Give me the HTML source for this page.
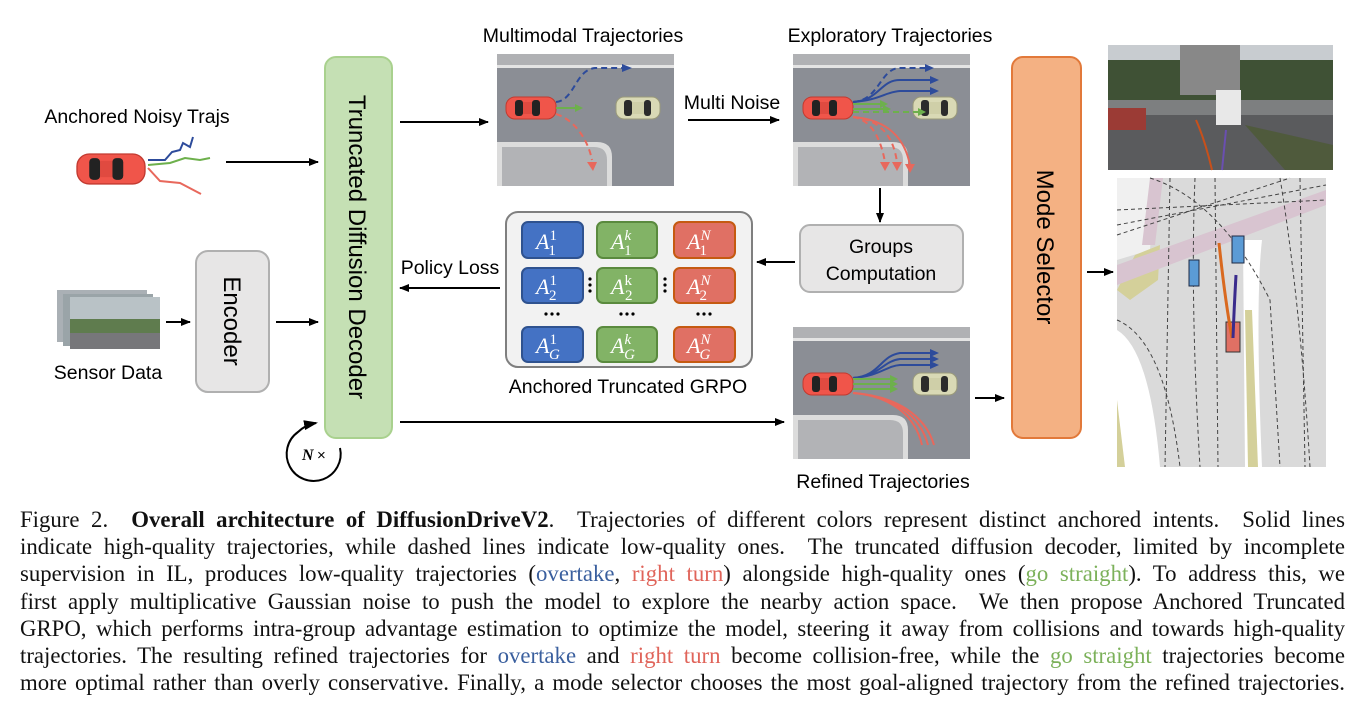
<!DOCTYPE html>
<html><head><meta charset="utf-8"><style>
html,body{margin:0;padding:0;background:#fff;}
body{width:1363px;height:713px;position:relative;overflow:hidden;}
svg{position:absolute;left:0;top:0;}
.cap{position:absolute;left:20px;top:506px;width:1325px;font-family:"Liberation Serif",serif;font-size:22.8px;line-height:27.2px;color:#111;}
.cap div{white-space:nowrap;text-align:justify;text-align-last:justify;height:27.2px;}
.b{color:#3a5f9e}.r{color:#e0645a}.g{color:#7cb15a}
</style></head><body>
<svg width="1363" height="500" viewBox="0 0 1363 500" font-family="Liberation Sans, sans-serif">
<defs>
<marker id="ah" markerWidth="10" markerHeight="8" refX="9" refY="4" orient="auto" markerUnits="userSpaceOnUse"><path d="M0,0 L10,4 L0,8 z" fill="#000"/></marker>
<marker id="ah2" markerWidth="14" markerHeight="10" refX="12" refY="5" orient="auto" markerUnits="userSpaceOnUse"><path d="M0,0 L14,5 L0,10 z" fill="#000"/></marker>
<g id="road">
<rect x="0" y="0" width="177" height="132" fill="#8b8e95"/>
<rect x="0" y="0" width="177" height="11" fill="#b0b1b4"/>
<rect x="0" y="11" width="177" height="3" fill="#e4e4e4"/>
<path d="M0,88 L100,88 Q115,88 115,103 L115,132 L0,132 z" fill="#dcdcdc"/>
<path d="M5,93 L97,93 Q110,93 110,106 L110,132 L5,132 z" fill="#b2b3b6"/>
</g>
<g id="redcar">
<rect x="0" y="0" width="50" height="22" rx="9" fill="#f0554a" stroke="#c23a30" stroke-width="1"/>
<rect x="9" y="3" width="8" height="16" rx="3" fill="#222"/>
<rect x="26" y="3" width="8" height="16" rx="3" fill="#222"/>
<rect x="17" y="5" width="9" height="12" fill="#e04a40"/>
</g>
<g id="bcar">
<rect x="0" y="0" width="44" height="22" rx="8" fill="#d9d9b5" stroke="#9a9a7a"/>
<rect x="8" y="3" width="8" height="16" rx="3" fill="#2b2b2b"/>
<rect x="28" y="3" width="7" height="16" rx="3" fill="#2b2b2b"/>
<rect x="16" y="5" width="12" height="12" fill="#cfcfa8"/>
</g>
</defs>

<!-- left: anchored noisy -->
<text x="137" y="123" font-size="19.5" text-anchor="middle">Anchored Noisy Trajs</text>
<g transform="translate(77,154) scale(1.36)"><use href="#redcar"/></g>
<path d="M148,160 L165,160 L172,152 L180,150 L183,143 L190,147 L193,137" stroke="#2d4b9b" stroke-width="2" fill="none"/>
<path d="M148,165 L170,163 L185,158 L200,160 L210,158" stroke="#6db04c" stroke-width="2" fill="none"/>
<path d="M148,168 L160,181 L180,183 L201,194" stroke="#e8685c" stroke-width="2" fill="none"/>
<line x1="226" y1="162" x2="318" y2="162" stroke="#000" stroke-width="2" marker-end="url(#ah)"/>

<!-- sensor -->
<rect x="57" y="290" width="90" height="52" fill="#aab0b5"/>
<rect x="63" y="294" width="90" height="52" fill="#9aa4a8"/>
<rect x="70" y="297" width="90" height="52" fill="#8a9094"/>
<rect x="70" y="297" width="90" height="22" fill="#b9c2c6"/>
<rect x="70" y="319" width="90" height="14" fill="#5f7c4e"/>
<rect x="70" y="333" width="90" height="16" fill="#77777a"/>
<text x="108" y="379" font-size="19.5" text-anchor="middle">Sensor Data</text>
<line x1="166" y1="322" x2="190" y2="322" stroke="#000" stroke-width="2" marker-end="url(#ah)"/>
<rect x="196" y="251" width="73" height="141" rx="12" fill="#e7e6e6" stroke="#b0b0b0" stroke-width="2"/>
<text transform="translate(224,321) rotate(90)" font-size="24" text-anchor="middle">Encoder</text>
<line x1="276" y1="322" x2="318" y2="322" stroke="#000" stroke-width="2" marker-end="url(#ah)"/>

<!-- decoder -->
<rect x="325" y="57" width="67" height="381" rx="11" fill="#c5e0b4" stroke="#a9d18e" stroke-width="2"/>
<text transform="translate(349,247) rotate(90)" font-size="24" text-anchor="middle">Truncated Diffusion Decoder</text>
<path d="M340,448 A27,27 0 1 1 298,432 Q305,425 316,423" stroke="#000" stroke-width="2" fill="none" marker-end="url(#ah2)"/>
<text x="302" y="460" font-size="16" font-family="Liberation Serif, serif" font-style="italic" font-weight="bold">N</text>
<text x="317" y="460" font-size="15">×</text>

<!-- multimodal -->
<text x="583" y="42" font-size="19.5" text-anchor="middle">Multimodal  Trajectories</text>
<use href="#road" x="497" y="54"/>
<use href="#redcar" x="506" y="97"/>
<use href="#bcar" x="616" y="97"/>
<path d="M556,102 C575,100 575,70 595,68 L622,68" stroke="#2d4b9b" stroke-width="2" stroke-dasharray="6,4" fill="none"/>
<path d="M622,64 L632,68 L622,72z" fill="#2d4b9b"/>
<path d="M556,108 L575,108" stroke="#6db04c" stroke-width="2"/><path d="M575,104 L583,108 L575,112z" fill="#6db04c"/>
<path d="M556,114 C575,120 588,140 592,160" stroke="#e8685c" stroke-width="2" stroke-dasharray="6,4" fill="none"/><path d="M587,162 L597,162 L593,171z" fill="#e8685c"/>
<line x1="400" y1="122" x2="488" y2="122" stroke="#000" stroke-width="2" marker-end="url(#ah)"/>
<text x="732" y="109" font-size="19.5" text-anchor="middle">Multi Noise</text>
<line x1="688" y1="120" x2="779" y2="120" stroke="#000" stroke-width="2" marker-end="url(#ah)"/>

<!-- exploratory -->
<text x="890" y="42" font-size="19.5" text-anchor="middle">Exploratory  Trajectories</text>
<use href="#road" x="793" y="54"/>
<use href="#redcar" x="803" y="97"/>
<use href="#bcar" x="913" y="97"/>
<g fill="none" stroke-width="2">
<path d="M853,102 C880,100 880,68 900,68 L925,68" stroke="#2d4b9b" stroke-dasharray="6,4"/>
<path d="M853,102 C880,100 880,80 900,80 L930,80" stroke="#2d4b9b"/>
<path d="M853,102 C880,100 885,92 900,91 L930,91" stroke="#2d4b9b"/>
<path d="M853,104 L880,104" stroke="#6db04c"/><path d="M853,109 L883,109" stroke="#6db04c"/>
<path d="M853,112 L918,112" stroke="#6db04c" stroke-dasharray="6,4"/>
<path d="M853,117 C870,120 880,135 885,162" stroke="#e8685c" stroke-dasharray="6,4"/>
<path d="M853,117 C880,120 893,135 897,162" stroke="#e8685c" stroke-dasharray="6,4"/>
<path d="M853,117 C890,120 905,140 910,165" stroke="#e8685c"/>
</g>
<g fill="#2d4b9b"><path d="M925,64 L934,68 L925,72z"/><path d="M930,76 L939,80 L930,84z"/><path d="M930,87 L939,91 L930,95z"/></g>
<g fill="#6db04c"><path d="M880,100 L888,104 L880,108z"/><path d="M883,105 L891,109 L883,113z"/><path d="M918,108 L926,112 L918,116z"/></g>
<g fill="#e8685c"><path d="M880,162 L890,162 L885,171z"/><path d="M892,162 L902,162 L897,171z"/><path d="M905,164 L915,164 L910,173z"/></g>
<line x1="880" y1="188" x2="880" y2="222" stroke="#000" stroke-width="2" marker-end="url(#ah)"/>

<!-- groups -->
<rect x="800" y="225" width="163" height="67" rx="10" fill="#e7e6e6" stroke="#b0b0b0" stroke-width="2"/>
<text x="881" y="253" font-size="19.5" text-anchor="middle">Groups</text>
<text x="881" y="280" font-size="19.5" text-anchor="middle">Computation</text>
<line x1="795" y1="262" x2="757" y2="262" stroke="#000" stroke-width="2" marker-end="url(#ah)"/>

<!-- GRPO -->
<rect x="506" y="212" width="246" height="155" rx="12" fill="#f2f2f2" stroke="#7f7f7f" stroke-width="2"/>
<g stroke-width="2">
<rect x="522" y="222" width="61" height="36" rx="6" fill="#4472c4" stroke="#2f528f"/>
<rect x="522" y="268" width="61" height="35" rx="6" fill="#4472c4" stroke="#2f528f"/>
<rect x="522" y="327" width="61" height="35" rx="6" fill="#4472c4" stroke="#2f528f"/>
<rect x="597" y="222" width="60" height="36" rx="6" fill="#82b366" stroke="#5a8a3e"/>
<rect x="597" y="268" width="60" height="35" rx="6" fill="#82b366" stroke="#5a8a3e"/>
<rect x="597" y="327" width="60" height="35" rx="6" fill="#82b366" stroke="#5a8a3e"/>
<rect x="674" y="222" width="61" height="36" rx="6" fill="#e07064" stroke="#c55a11"/>
<rect x="674" y="268" width="61" height="35" rx="6" fill="#e07064" stroke="#c55a11"/>
<rect x="674" y="327" width="61" height="35" rx="6" fill="#e07064" stroke="#c55a11"/>
</g>
<g fill="#fff" font-size="22" font-family="Liberation Serif, serif" font-style="italic">
<text x="536" y="249">A<tspan font-size="15" font-style="normal" dy="-9">1</tspan><tspan font-size="15" font-style="normal" dx="-8" dy="15">1</tspan></text>
<text x="536" y="294">A<tspan font-size="15" font-style="normal" dy="-9">1</tspan><tspan font-size="15" font-style="normal" dx="-8" dy="15">2</tspan></text>
<text x="536" y="353">A<tspan font-size="15" font-style="normal" dy="-9">1</tspan><tspan font-size="15" dx="-8" dy="15">G</tspan></text>
<text x="611" y="249">A<tspan font-size="15" dy="-9">k</tspan><tspan font-size="15" font-style="normal" dx="-7" dy="15">1</tspan></text>
<text x="611" y="294">A<tspan font-size="15" font-style="normal" dy="-9">k</tspan><tspan font-size="15" font-style="normal" dx="-7" dy="15">2</tspan></text>
<text x="611" y="353">A<tspan font-size="15" dy="-9">k</tspan><tspan font-size="15" dx="-7" dy="15">G</tspan></text>
<text x="687" y="249">A<tspan font-size="15" dy="-9">N</tspan><tspan font-size="15" font-style="normal" dx="-11" dy="15">1</tspan></text>
<text x="687" y="294">A<tspan font-size="15" dy="-9">N</tspan><tspan font-size="15" font-style="normal" dx="-11" dy="15">2</tspan></text>
<text x="687" y="353">A<tspan font-size="15" dy="-9">N</tspan><tspan font-size="15" dx="-11" dy="15">G</tspan></text>
</g>
<g fill="#000">
<circle cx="590" cy="279" r="1.6"/><circle cx="590" cy="285" r="1.6"/><circle cx="590" cy="291" r="1.6"/>
<circle cx="665" cy="279" r="1.6"/><circle cx="665" cy="285" r="1.6"/><circle cx="665" cy="291" r="1.6"/>
<circle cx="546" cy="314" r="1.6"/><circle cx="552" cy="314" r="1.6"/><circle cx="558" cy="314" r="1.6"/>
<circle cx="621" cy="314" r="1.6"/><circle cx="627" cy="314" r="1.6"/><circle cx="633" cy="314" r="1.6"/>
<circle cx="698" cy="314" r="1.6"/><circle cx="704" cy="314" r="1.6"/><circle cx="710" cy="314" r="1.6"/>
</g>
<text x="628" y="393" font-size="19.5" text-anchor="middle">Anchored Truncated GRPO</text>
<text x="450" y="274" font-size="19.5" text-anchor="middle">Policy Loss</text>
<line x1="500" y1="288" x2="400" y2="288" stroke="#000" stroke-width="2" marker-end="url(#ah)"/>

<!-- refined -->
<use href="#road" x="793" y="327"/>
<use href="#redcar" x="803" y="373"/>
<use href="#bcar" x="913" y="373"/>
<g fill="none" stroke-width="2">
<path d="M853,378 C880,376 880,356 900,353 L930,353" stroke="#2d4b9b"/>
<path d="M853,378 C880,376 883,361 900,359 L930,359" stroke="#2d4b9b"/>
<path d="M853,378 C880,376 886,366 900,365 L930,365" stroke="#2d4b9b"/>
<path d="M853,379 L890,379" stroke="#6db04c"/><path d="M853,384 L890,384" stroke="#6db04c"/><path d="M853,389 L890,389" stroke="#6db04c"/>
<path d="M853,393 C890,396 915,415 922,445" stroke="#e8685c"/>
<path d="M853,393 C893,396 920,415 928,445" stroke="#e8685c"/>
<path d="M853,393 C896,396 925,415 934,445" stroke="#e8685c"/>
</g>
<g fill="#2d4b9b"><path d="M930,349 L939,353 L930,357z"/><path d="M930,355 L939,359 L930,363z"/><path d="M930,361 L939,365 L930,369z"/></g>
<g fill="#6db04c"><path d="M890,375 L898,379 L890,383z"/><path d="M890,380 L898,384 L890,388z"/><path d="M890,385 L898,389 L890,393z"/></g>
<line x1="400" y1="422" x2="784" y2="422" stroke="#000" stroke-width="2" marker-end="url(#ah)"/>
<text x="883" y="488" font-size="19.5" text-anchor="middle">Refined Trajectories</text>
<line x1="975" y1="398" x2="1004" y2="398" stroke="#000" stroke-width="2" marker-end="url(#ah)"/>

<!-- mode selector -->
<rect x="1012" y="57" width="69" height="381" rx="11" fill="#f4b183" stroke="#e2793a" stroke-width="2"/>
<text transform="translate(1037,247) rotate(90)" font-size="24" text-anchor="middle">Mode Selector</text>
<line x1="1087" y1="272" x2="1113" y2="272" stroke="#000" stroke-width="2" marker-end="url(#ah)"/>

<!-- camera -->
<rect x="1108" y="45" width="225" height="125" fill="#7d7f80"/>
<rect x="1108" y="45" width="225" height="35" fill="#c8ccd0"/>
<rect x="1108" y="60" width="225" height="40" fill="#3f5135"/>
<rect x="1180" y="45" width="60" height="50" fill="#888"/>
<rect x="1108" y="115" width="225" height="55" fill="#5a5b5d"/>
<path d="M1245,125 L1333,145 L1333,170 L1285,170z" fill="#4f5a3c"/>
<rect x="1216" y="90" width="25" height="35" fill="#e8e8e8"/>
<rect x="1108" y="108" width="38" height="22" fill="#9b3b35"/>
<path d="M1196,120 Q1205,140 1212,170" stroke="#c8501a" stroke-width="2" fill="none"/>
<path d="M1226,130 L1222,170" stroke="#6a4fb0" stroke-width="2" fill="none"/>

<!-- BEV -->
<rect x="1117" y="178" width="209" height="289" fill="#dadada"/>
<path d="M1117,178 L1155,178 L1150,250 L1117,260z" fill="#fff" opacity="0.6"/>
<path d="M1117,290 L1135,255 L1160,245 L1158,280 L1130,300z" fill="#d4d09a"/>
<path d="M1117,300 L1326,225 L1326,240 L1117,320z" fill="#d8c4d0" transform="translate(0,-35)"/>
<path d="M1150,178 L1163,178 L1155,245 L1142,245z" fill="#d8c4d0"/>
<path d="M1117,330 Q1150,350 1160,467 L1117,467z" fill="#fff"/>
<path d="M1117,400 L1125,467 L1117,467z" fill="#d4d09a"/>
<path d="M1243,240 L1262,240 Q1255,300 1262,467 L1245,467z" fill="#fff"/>
<path d="M1245,310 L1252,310 L1258,467 L1248,467z" fill="#d4d09a"/>
<g stroke="#444" stroke-width="1" stroke-dasharray="4,3" fill="none">
<path d="M1170,178 L1165,467"/><path d="M1195,178 Q1190,300 1200,467"/><path d="M1215,178 L1218,467"/>
<path d="M1280,178 Q1300,300 1310,467"/><path d="M1300,178 L1305,467"/><path d="M1117,225 L1326,185"/>
<path d="M1117,210 L1326,200"/><path d="M1117,235 L1290,178"/><path d="M1150,178 Q1220,200 1270,300 L1280,467"/>
<path d="M1117,320 Q1165,340 1180,467"/>
</g>
<rect x="1189" y="260" width="10" height="26" fill="#5b9bd5" stroke="#1f2a44"/>
<rect x="1232" y="236" width="12" height="27" fill="#5b9bd5" stroke="#1f2a44"/>
<rect x="1226" y="322" width="14" height="30" fill="#e07064" stroke="#333"/>
<path d="M1219,243 Q1225,300 1232,338" stroke="#d9691f" stroke-width="3" fill="none"/>
<path d="M1236,275 Q1234,310 1233,338" stroke="#3a2b8c" stroke-width="3" fill="none"/>
</svg>
<div class="cap">
<div>Figure 2.&nbsp; <b>Overall architecture of DiffusionDriveV2</b>.&nbsp; Trajectories of different colors represent distinct anchored intents.&nbsp; Solid lines</div>
<div>indicate high-quality trajectories, while dashed lines indicate low-quality ones.&nbsp; The truncated diffusion decoder, limited by incomplete</div>
<div>supervision in IL, produces low-quality trajectories (<span class="b">overtake</span>, <span class="r">right turn</span>) alongside high-quality ones (<span class="g">go straight</span>). To address this, we</div>
<div>first apply multiplicative Gaussian noise to push the model to explore the nearby action space.&nbsp; We then propose Anchored Truncated</div>
<div>GRPO, which performs intra-group advantage estimation to optimize the model, steering it away from collisions and towards high-quality</div>
<div>trajectories. The resulting refined trajectories for <span class="b">overtake</span> and <span class="r">right turn</span> become collision-free, while the <span class="g">go straight</span> trajectories become</div>
<div>more optimal rather than overly conservative. Finally, a mode selector chooses the most goal-aligned trajectory from the refined trajectories.</div>
</div>
</body></html>
